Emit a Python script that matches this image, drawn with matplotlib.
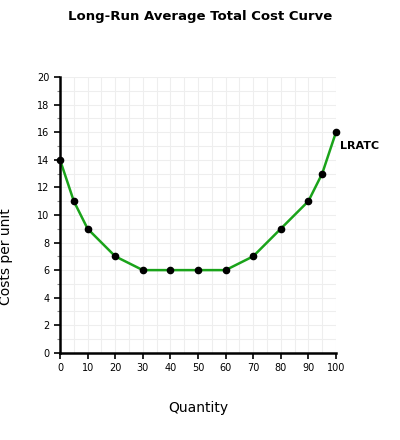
import matplotlib
matplotlib.use("Agg")
import matplotlib.pyplot as plt
import numpy as np

quantity = [0, 5, 10, 20, 30, 40, 50, 60, 70, 80, 90, 95, 100]
cost = [14, 11, 9, 7, 6, 6, 6, 6, 7, 9, 11, 13, 16]

fig = plt.figure(figsize=(4, 4.4), dpi=100)
ax = fig.add_axes([0.15, 0.198, 0.69, 0.627])

ax.set_xticks(np.arange(0, 101, 5), minor=True)
ax.set_yticks(np.arange(0, 21, 1), minor=True)
ax.grid(which="both", color="#eeeeee", linewidth=0.8)
ax.set_axisbelow(True)

ax.plot(quantity, cost, color="#1aa31a", linewidth=1.8, marker="o",
        markersize=4.5, markerfacecolor="black", markeredgecolor="black", clip_on=False)

ax.set_xlim(0, 100)
ax.set_ylim(0, 20)
ax.set_xticks(range(0, 101, 10))
ax.set_yticks(range(0, 21, 2))
ax.tick_params(labelsize=7, length=4, width=1.2)
ax.tick_params(which="minor", length=2, width=0.8, color="#888888")
ax.tick_params(axis="x", which="minor", length=0)
for s in ["top", "right"]:
    ax.spines[s].set_visible(False)
for s in ["left", "bottom"]:
    ax.spines[s].set_linewidth(1.8)

ax.text(101.5, 15.0, "LRATC", fontsize=8, fontweight="bold", va="center")
ax.set_xlabel("Quantity", fontsize=10, labelpad=20)
ax.set_ylabel("Costs per unit", fontsize=10)
ax.yaxis.set_label_coords(-0.17, 0.35)
fig.text(0.5, 0.955, "Long-Run Average Total Cost Curve", ha="center",
         fontsize=9.5, fontweight="bold")

fig.savefig("out.png")
